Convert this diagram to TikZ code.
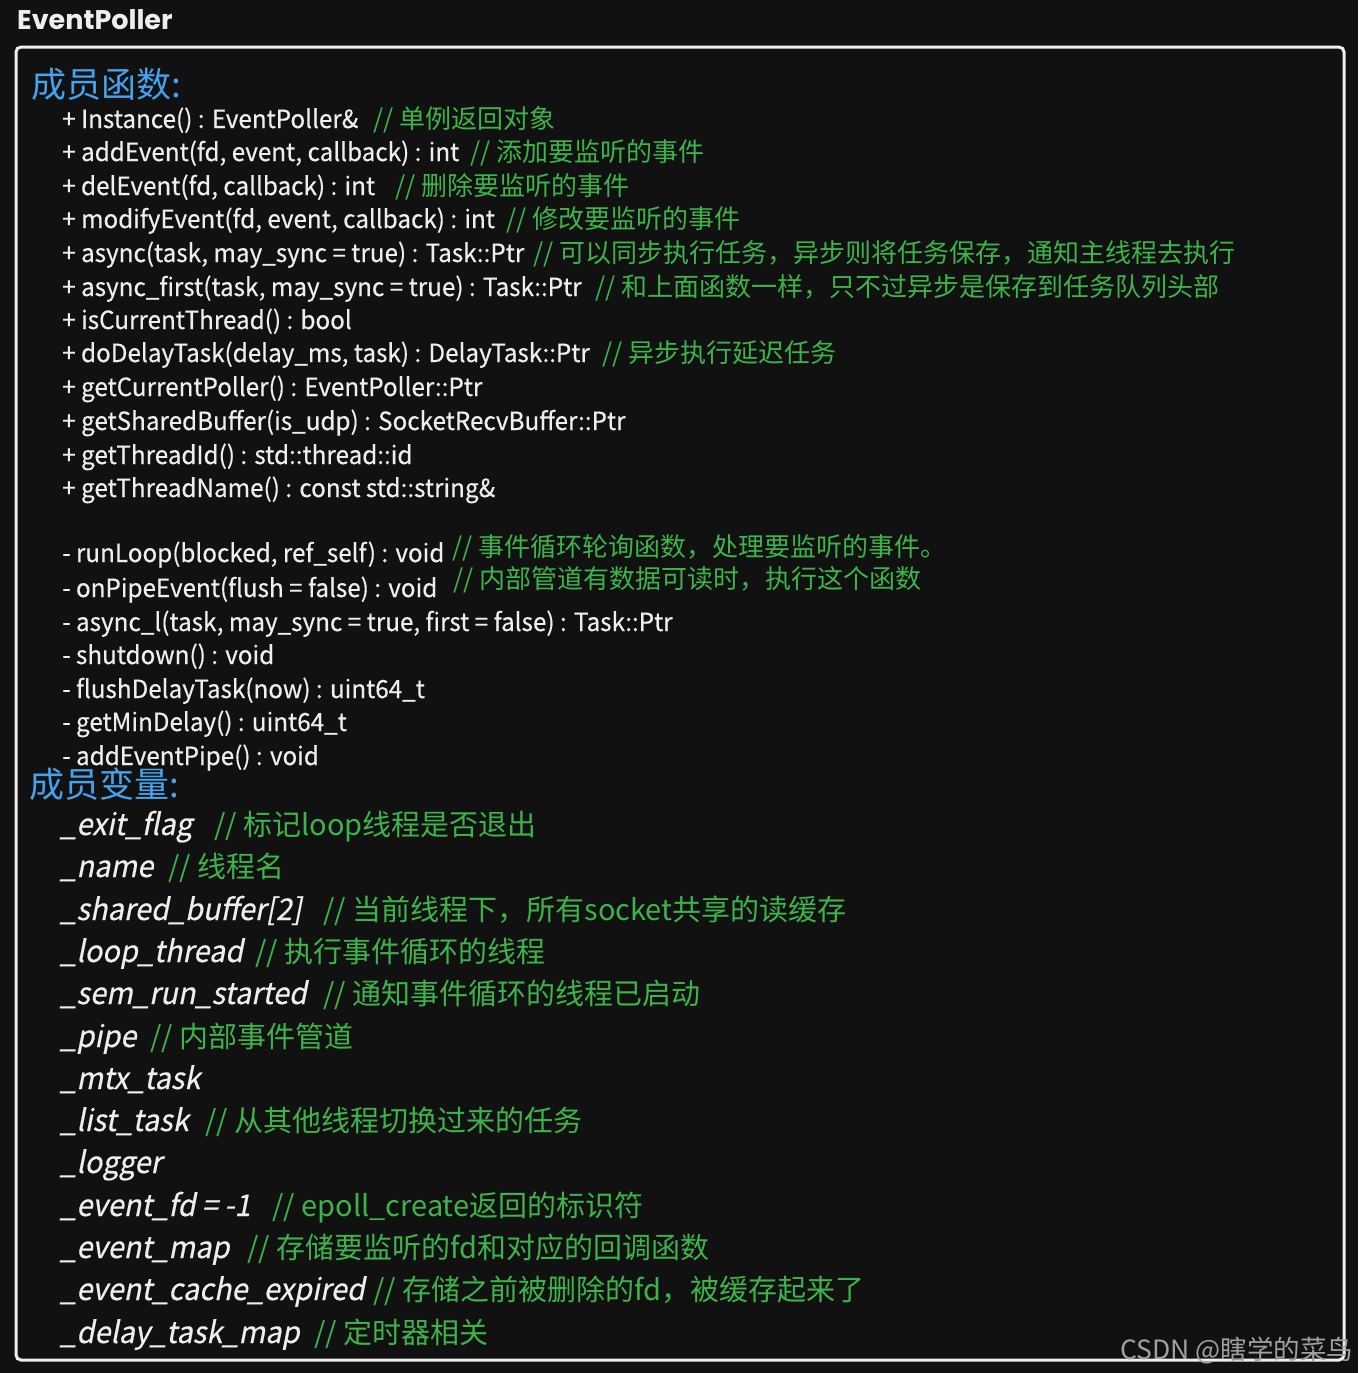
\documentclass[tikz,border=0pt]{standalone}
\usepackage{fontspec}
\setmainfont{Noto Sans CJK SC}
\newfontfamily\codefont{Noto Sans CJK SC}[FakeBold=0.4,FakeStretch=0.97]
\newfontfamily\varfont{Noto Sans CJK SC}[FakeSlant=0.2,FakeBold=0.5,FakeStretch=0.965]
\newfontfamily\cmtfont{Noto Sans CJK SC}
\newfontfamily\headfont{Noto Sans CJK SC}
\newfontfamily\titlefont{Poppins}
\definecolor{bgc}{HTML}{111111}
\definecolor{txt}{HTML}{EEEEEE}
\definecolor{grn}{HTML}{3CB44A}
\definecolor{blu}{HTML}{43A3EF}
\definecolor{wm}{HTML}{A0A0A0}
\tikzset{
  code/.style={anchor=base west, inner sep=0pt, text=txt, font=\codefont\fontsize{25}{30}\selectfont},
  var/.style={anchor=base west, inner sep=0pt, text=txt, font=\varfont\fontsize{30}{36}\selectfont},
  cmt/.style={anchor=base west, inner sep=0pt, text=grn, font=\cmtfont\fontsize{26}{30}\selectfont},
  vcmt/.style={anchor=base west, inner sep=0pt, text=grn, font=\cmtfont\fontsize{29}{34}\selectfont},
  head/.style={anchor=base west, inner sep=0pt, text=blu, font=\headfont\fontsize{35}{40}\selectfont},
}
\begin{document}
\begin{tikzpicture}[x=1pt,y=-1pt]
\fill[bgc] (0,0) rectangle (1358,1373);
\useasboundingbox (0,0) rectangle (1358,1373);
\node[anchor=base west, inner sep=0pt, text=txt, font=\titlefont\bfseries\fontsize{27}{32}\selectfont] (title) at (17,29) {EventPoller};
\draw[line width=3pt, draw=txt, rounded corners=5pt] (16,47) rectangle (1344,1360);
\node[head] (h1) at (31,97) {成员函数:};
% public members
\node[code] (m1) at (62,128) {+ Instance() : EventPoller\&};
\node[cmt] (c1) at (373,128) {// 单例返回对象};
\node[code] (m2) at (62,161) {+ addEvent(fd, event, callback) : int};
\node[cmt] (c2) at (470,161) {// 添加要监听的事件};
\node[code] (m3) at (62,195) {+ delEvent(fd, callback) : int};
\node[cmt] (c3) at (395,195) {// 删除要监听的事件};
\node[code] (m4) at (62,228) {+ modifyEvent(fd, event, callback) : int};
\node[cmt] (c4) at (506,228) {// 修改要监听的事件};
\node[code] (m5) at (62,262) {+ async(task, may\_sync = true) : Task::Ptr};
\node[cmt] (c5) at (533,262) {// 可以同步执行任务，异步则将任务保存，通知主线程去执行};
\node[code] (m6) at (62,296) {+ async\_first(task, may\_sync = true) : Task::Ptr};
\node[cmt] (c6) at (595,296) {// 和上面函数一样，只不过异步是保存到任务队列头部};
\node[code] (m7) at (62,329) {+ isCurrentThread() : bool};
\node[code] (m8) at (62,362) {+ doDelayTask(delay\_ms, task) : DelayTask::Ptr};
\node[cmt] (c8) at (602,362) {// 异步执行延迟任务};
\node[code] (m9) at (62,396) {+ getCurrentPoller() : EventPoller::Ptr};
\node[code] (m10) at (62,430) {+ getSharedBuffer(is\_udp) : SocketRecvBuffer::Ptr};
\node[code] (m11) at (62,464) {+ getThreadId() : std::thread::id};
\node[code] (m12) at (62,497) {+ getThreadName() : const std::string\&};
% private members
\node[code] (p1) at (62,562) {- runLoop(blocked, ref\_self) : void};
\node[cmt] (pc1) at (452,556) {// 事件循环轮询函数，处理要监听的事件。};
\node[code] (p2) at (62,597) {- onPipeEvent(flush = false) : void};
\node[cmt] (pc2) at (453,588) {// 内部管道有数据可读时，执行这个函数};
\node[code] (p3) at (62,631) {- async\_l(task, may\_sync = true, first = false) : Task::Ptr};
\node[code] (p4) at (62,664) {- shutdown() : void};
\node[code] (p5) at (62,698) {- flushDelayTask(now) : uint64\_t};
\node[code] (p6) at (62,731) {- getMinDelay() : uint64\_t};
\node[code] (p7) at (62,765) {- addEventPipe() : void};
\node[head] (h2) at (29,797) {成员变量:};
% variables
\node[var] (v1) at (60,835) {\_exit\_flag};
\node[vcmt] (vc1) at (214,835) {// 标记loop线程是否退出};
\node[var] (v2) at (60,877) {\_name};
\node[vcmt] (vc2) at (168,877) {// 线程名};
\node[var] (v3) at (60,920) {\_shared\_buffer[2]};
\node[vcmt] (vc3) at (323,920) {// 当前线程下，所有socket共享的读缓存};
\node[var] (v4) at (60,962) {\_loop\_thread};
\node[vcmt] (vc4) at (255,962) {// 执行事件循环的线程};
\node[var] (v5) at (60,1004) {\_sem\_run\_started};
\node[vcmt] (vc5) at (323,1004) {// 通知事件循环的线程已启动};
\node[var] (v6) at (60,1047) {\_pipe};
\node[vcmt] (vc6) at (150,1047) {// 内部事件管道};
\node[var] (v7) at (60,1089) {\_mtx\_task};
\node[var] (v8) at (60,1131) {\_list\_task};
\node[vcmt] (vc8) at (205,1131) {// 从其他线程切换过来的任务};
\node[var] (v9) at (60,1173) {\_logger};
\node[var] (v10) at (60,1216) {\_event\_fd = -1};
\node[vcmt] (vc10) at (272,1216) {// epoll\_create返回的标识符};
\node[var] (v11) at (60,1258) {\_event\_map};
\node[vcmt] (vc11) at (247,1258) {// 存储要监听的fd和对应的回调函数};
\node[var] (v12) at (60,1300) {\_event\_cache\_expired};
\node[vcmt] (vc12) at (373,1300) {// 存储之前被删除的fd，被缓存起来了};
\node[var] (v13) at (60,1343) {\_delay\_task\_map};
\node[vcmt] (vc13) at (314,1343) {// 定时器相关};
\node[anchor=base west, inner sep=0pt, text=wm, font=\cmtfont\fontsize{26.5}{30}\selectfont] (wmark) at (1120,1359) {CSDN @瞎学的菜鸟};
\end{tikzpicture}
\end{document}
